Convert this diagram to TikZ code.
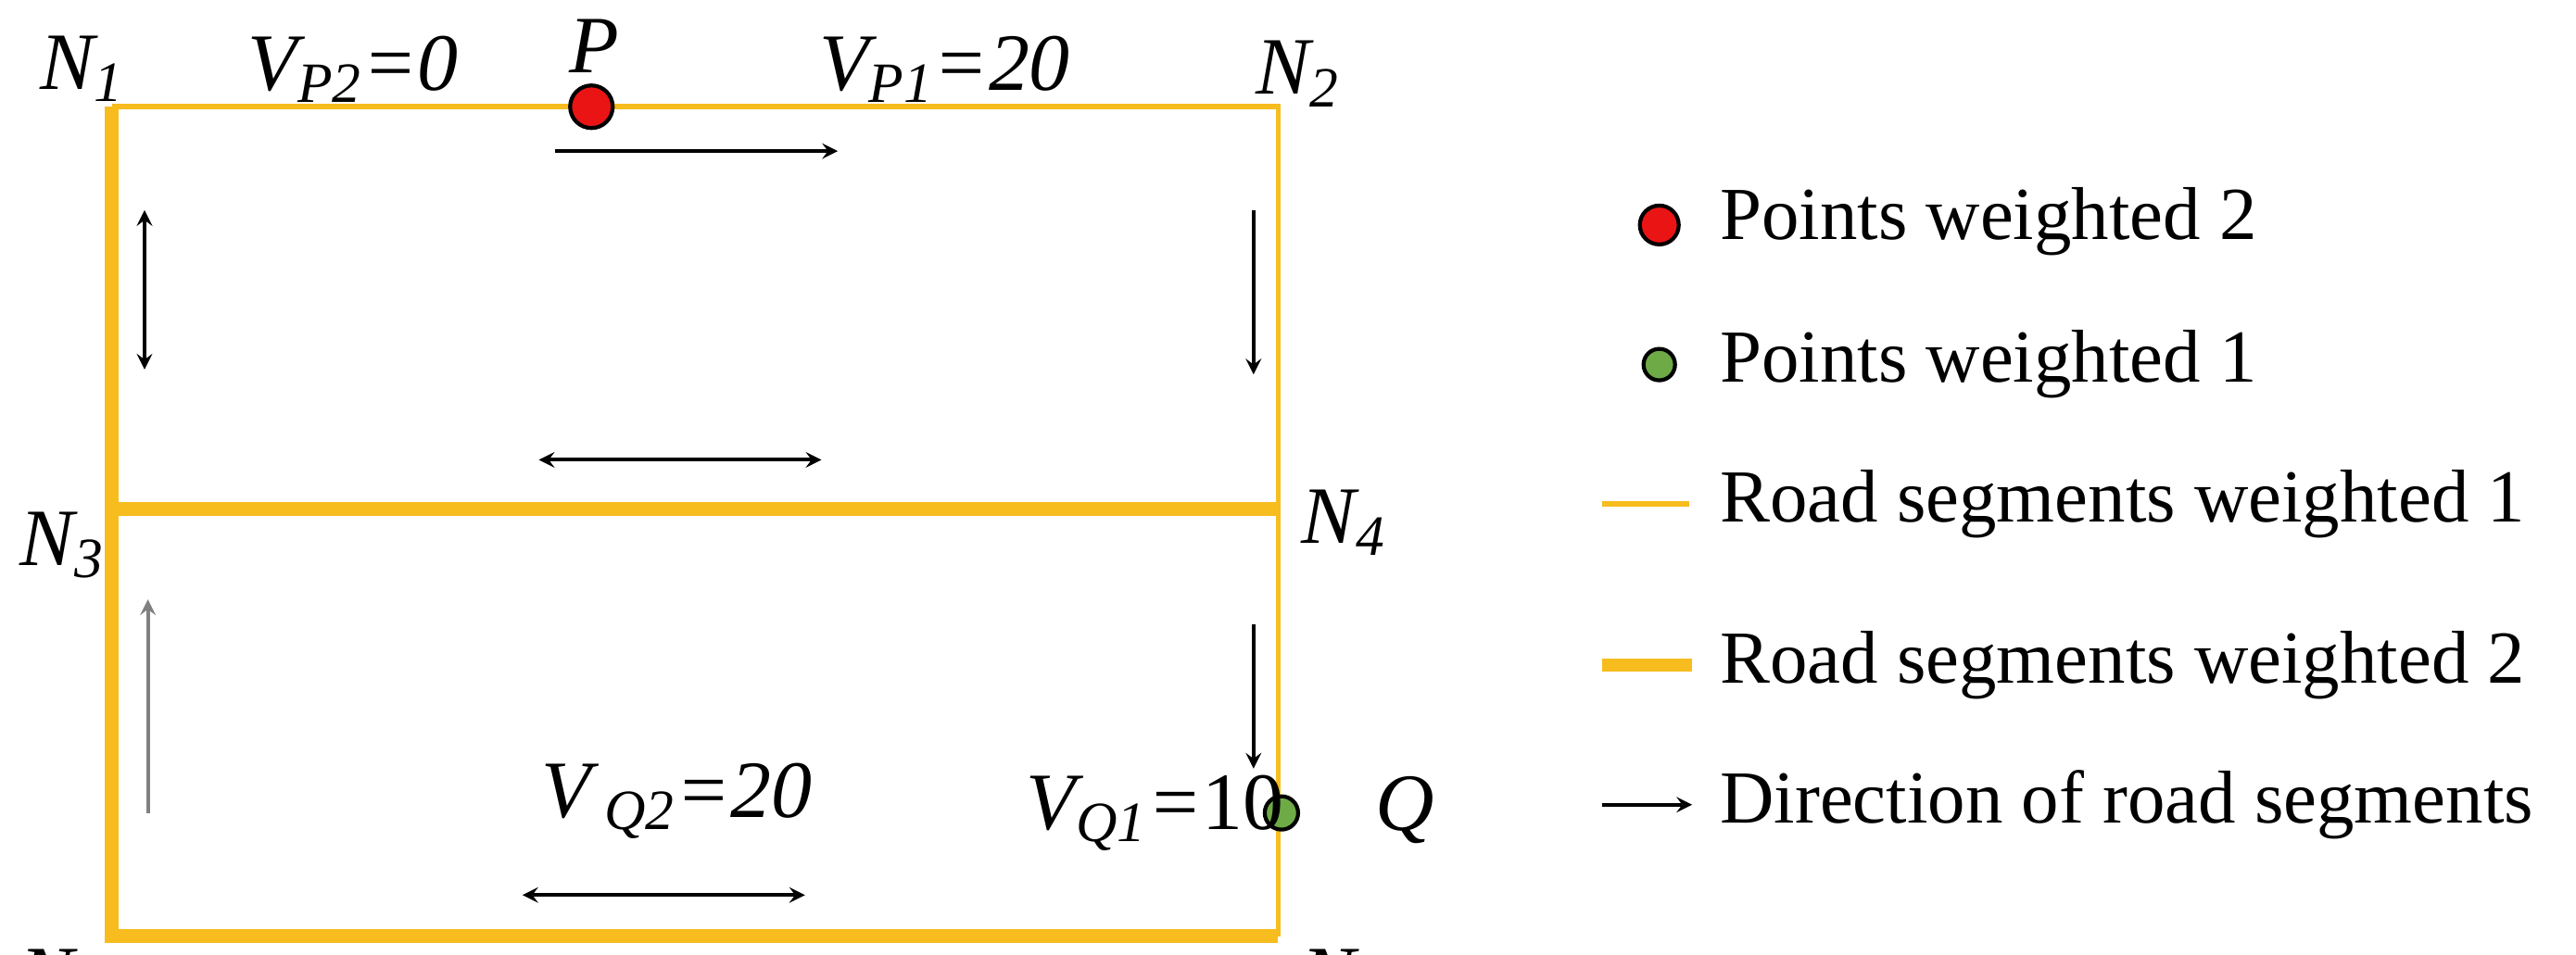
\documentclass[tikz,border=0pt]{standalone}
\usepackage{fontspec}
\setmainfont{Liberation Serif}
\definecolor{road}{RGB}{247,188,30}
\definecolor{pred}{RGB}{235,20,20}
\definecolor{pgreen}{RGB}{110,170,70}
\begin{document}
\begin{tikzpicture}[x=0.01773cm,y=-0.01773cm,
 thinroad/.style={road,line width=1.6pt},
 thickroad/.style={road,line width=4.2pt},
 dir/.style={-stealth,line width=1.1pt},
 bidir/.style={stealth-stealth,line width=1.1pt},
 lbl/.style={font=\fontsize{25}{28}\selectfont\itshape},
 leg/.style={anchor=west,font=\fontsize{23}{26}\selectfont}]
\useasboundingbox (0,0) rectangle (1568,581);
\coordinate (n1) at (68,65); \coordinate (n2) at (778,65);
\coordinate (n3) at (68,310); \coordinate (n4) at (778,310);
\coordinate (n5) at (68,570); \coordinate (n6) at (778,570);
\draw[thinroad] (n1)--(n2)--(n4)--(n6);
\draw[thickroad] (n1)--(n5)--(n6);
\draw[thickroad] (n3)--(n4);
\node[circle,draw=black,fill=pred,inner sep=0,line width=1.2pt,minimum size=0.46cm] (p) at (360,65) {};
\node[circle,draw=black,fill=pgreen,inner sep=0,line width=1.2pt,minimum size=0.36cm] (q) at (780,495) {};
\coordinate (a1) at (338,92); \coordinate (a2) at (510,92);
\draw[dir] (a1)--(a2);
\coordinate (b1) at (88,128); \coordinate (b2) at (88,225);
\draw[bidir] (b1)--(b2);
\coordinate (c1) at (763,128); \coordinate (c2) at (763,228);
\draw[dir] (c1)--(c2);
\coordinate (d1) at (328,280); \coordinate (d2) at (500,280);
\draw[bidir] (d1)--(d2);
\coordinate (e1) at (90,495); \coordinate (e2) at (90,365);
\draw[dir,gray] (e1)--(e2);
\coordinate (f1) at (763,380); \coordinate (f2) at (763,468);
\draw[dir] (f1)--(f2);
\coordinate (g1) at (318,545); \coordinate (g2) at (490,545);
\draw[bidir] (g1)--(g2);
\node[lbl] (l1) at (50,42) {N\textsubscript{1}};
\node[lbl] (l2) at (215,42) {V\textsubscript{P2}=0};
\node[lbl] (lp) at (362,28) {P};
\node[lbl] (l3) at (575,42) {V\textsubscript{P1}=20};
\node[lbl] (l4) at (790,45) {N\textsubscript{2}};
\node[lbl] (l5) at (38,332) {N\textsubscript{3}};
\node[lbl] (l6) at (818,318) {N\textsubscript{4}};
\node[lbl] (l7) at (703,495) {V\textsubscript{Q1}={\upshape10}};
\node[lbl] (lq) at (855,493) {Q};
\node[lbl] (l8) at (412,488) {V\,\textsubscript{Q2}=20};
\node[lbl] (l9) at (38,598) {N\textsubscript{5}};
\node[lbl] (l10) at (818,598) {N\textsubscript{6}};
\node[circle,draw=black,fill=pred,inner sep=0,line width=1.2pt,minimum size=0.42cm] (k1) at (1010,137) {};
\node[leg] (t1) at (1040,135) {Points weighted 2};
\node[circle,draw=black,fill=pgreen,inner sep=0,line width=1.2pt,minimum size=0.34cm] (k2) at (1010,222) {};
\node[leg] (t2) at (1040,222) {Points weighted 1};
\coordinate (h1) at (975,307); \coordinate (h2) at (1028,307);
\draw[thinroad] (h1)--(h2);
\node[leg] (t3) at (1040,307) {Road segments weighted 1};
\coordinate (i1) at (975,405); \coordinate (i2) at (1030,405);
\draw[thickroad] (i1)--(i2);
\node[leg] (t4) at (1040,405) {Road segments weighted 2};
\coordinate (j1) at (975,490); \coordinate (j2) at (1030,490);
\draw[dir] (j1)--(j2);
\node[leg] (t5) at (1040,490) {Direction of road segments};
\end{tikzpicture}
\end{document}
